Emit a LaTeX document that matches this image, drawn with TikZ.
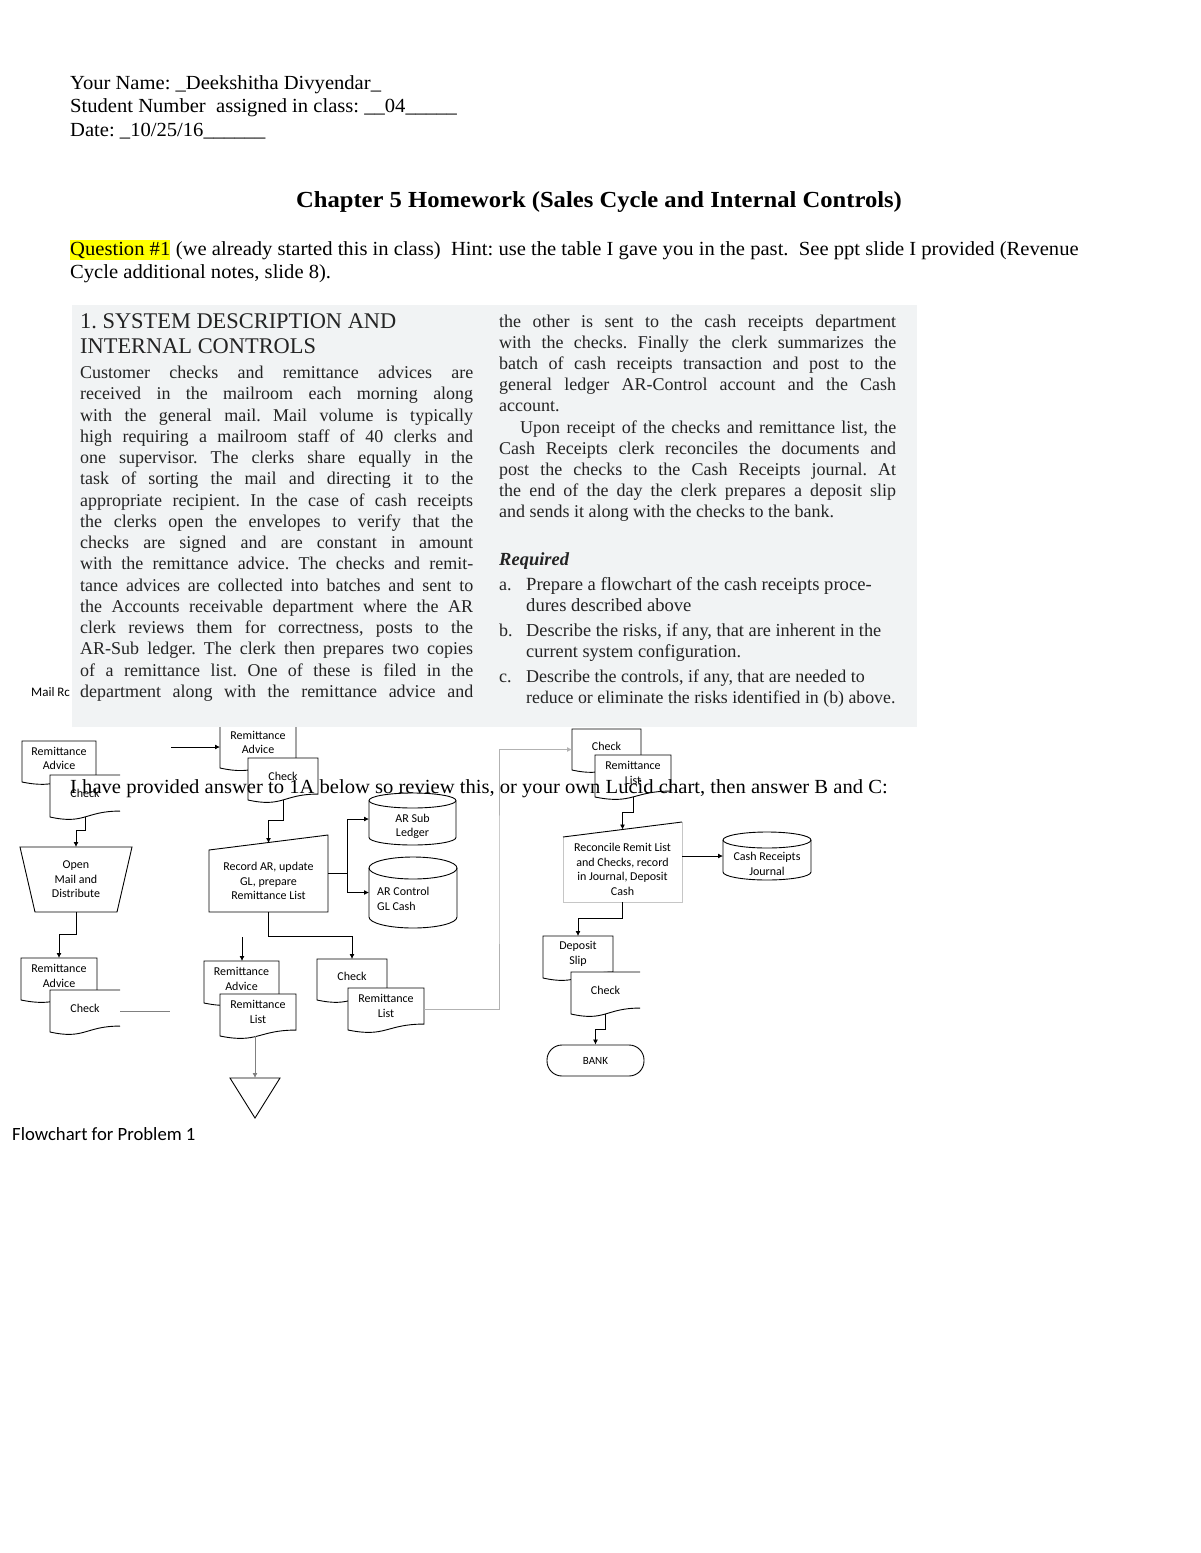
\documentclass[tikz,border=0pt]{standalone}
\usepackage{fontspec}
\setmainfont{Liberation Serif}
\newfontfamily\flowfamily{Carlito}
\newfontfamily\hdrfamily{Liberation Serif}[FakeStretch=1.03]
\newfontfamily\ttlfamily{Liberation Serif}[FakeStretch=1.07]
\usetikzlibrary{arrows.meta,calc,fit}
\definecolor{scanbg}{RGB}{241,243,244}
\definecolor{scantext}{RGB}{35,35,35}
\definecolor{hl}{RGB}{255,255,0}
\frenchspacing
\tikzset{
 docline/.style={draw=black, fill=white, line width=0.9pt},
 docbox/.style={inner sep=0pt, outer sep=0pt},
 doctext/.style={font=\flowfamily\fontsize{12}{14.5}\selectfont, align=center, inner sep=0pt},
 arr/.style={line width=0.8pt, -{Latex[length=5pt,width=5pt]}},
 conn/.style={line width=0.8pt},
 hdr/.style={anchor=base west, inner sep=0pt, font=\hdrfamily\fontsize{20}{24}\selectfont},
 scanl/.style={anchor=base west, inner sep=0pt, text=scantext, font=\frenchspacing\fontsize{18}{21}\selectfont},
 scanh/.style={anchor=base west, inner sep=0pt, text=scantext, font=\fontsize{22.4}{26}\selectfont},
}
% document shape: name x1 y1 x2 y2 text
\newcommand\Doc[6]{%
 \node[docbox, fit={(#2,#3) (#4,#5)}] (#1) {};
 \filldraw[docline] (#1.north west) -- (#1.north east) -- ({#4},{#3+0.8587*(#5-#3)}) .. controls ({(#2+#4)/2},{#3+0.8587*(#5-#3)}) and ({(#2+#4)/2},{#3+1.1852*(#5-#3)}) .. (#1.south west) -- cycle;
 \node[doctext] (#1t) at ({(#2+#4)/2},{#3+0.43*(#5-#3)}) {#6};
}
% document shape with open right side
\newcommand\DocOpen[6]{%
 \node[docbox, fit={(#2,#3) (#4,#5)}] (#1) {};
 \fill[white] (#1.north west) -- (#1.north east) -- ({#4},{#3+0.8587*(#5-#3)}) .. controls ({(#2+#4)/2},{#3+0.8587*(#5-#3)}) and ({(#2+#4)/2},{#3+1.1852*(#5-#3)}) .. (#1.south west) -- cycle;
 \draw[line width=0.9pt] ({#4},{#3+0.8587*(#5-#3)}) .. controls ({(#2+#4)/2},{#3+0.8587*(#5-#3)}) and ({(#2+#4)/2},{#3+1.1852*(#5-#3)}) .. (#1.south west) -- (#1.north west) -- (#1.north east);
 \node[doctext] (#1t) at ({(#2+#4)/2},{#3+0.43*(#5-#3)}) {#6};
}
% cylinder: name x1 y1 x2 y2 ry text
\newcommand\Cyl[7]{%
 \node[docbox, fit={(#2,#3) (#4,#5)}] (#1) {};
 \pgfmathsetmacro\cylrx{(#4-#2)/2}
 \filldraw[docline] (#2,{#3+#6}) -- (#2,{#5-#6}) arc[start angle=180,end angle=0,x radius=\cylrx,y radius=#6] -- (#4,{#3+#6}) arc[start angle=0,end angle=-180,x radius=\cylrx,y radius=#6] -- cycle;
 \draw[line width=0.9pt] (#2,{#3+#6}) arc[start angle=180,end angle=0,x radius=\cylrx,y radius=#6];
 \node[doctext] (#1t) at ({(#2+#4)/2},{(#3+2*#6+#5)/2}) {#7};
}
\newcommand\LL[3]{\node[scanl] (#1) at (80,#2) {\makebox[393pt][s]{#3}};}
\newcommand\RL[3]{\node[scanl] (#1) at (499,#2) {\makebox[397pt][s]{#3}};}
\begin{document}
\begin{tikzpicture}[x=1pt,y=-1pt]
\fill[white] (0,0) rectangle (1200,1553);
\path[use as bounding box] (0,0) rectangle (1200,1553);

% ---------------- flowchart ----------------
% mail room
\Doc{raLa}{22}{741}{96}{782}{Remittance\\Advice}
\DocOpen{ckLa}{50}{775}{120}{817}{Check}
\node[docbox, fit={(20,847) (132,912)}] (opn) {};
\draw[line width=0.9pt, fill=white] (opn.north west) -- (opn.north east) -- (117,912) -- (35,912) -- cycle;
\node[doctext] (opnt) at (opn.center) {Open\\Mail and\\Distribute};
\Doc{raLb}{21}{958}{97}{1000}{Remittance\\Advice}
\DocOpen{ckLb}{50}{990}{120}{1032}{Check}

% AR department
\Doc{raMa}{220}{723}{296}{768}{Remittance\\Advice}
\Doc{ckMa}{248}{758}{318}{800}{Check}
\node[docbox, fit={(209,850) (328,912)}] (rec) {};
\draw[line width=0.9pt, fill=white] (209,850) -- (328,835) -- (328,912) -- (209,912) -- cycle;
\node[doctext] (rect) at (rec.center) {Record AR, update\\GL, prepare\\Remittance List};
\Cyl{arsub}{369}{793}{456}{845}{7.5}{AR Sub\\Ledger}
\Cyl{arctl}{369}{857}{457}{928}{11}{}
\node[doctext, anchor=west, align=left] (arctlx) at (377,899) {AR Control\\GL Cash};
\Doc{raMb}{204}{961}{279}{1003}{Remittance\\Advice}
\Doc{ltMa}{220}{994}{296}{1036}{Remittance\\List}
\Doc{ckMb}{317}{959}{387}{1000}{Check}
\Doc{ltMb}{348}{988}{424}{1030}{Remittance\\List}
\node[docbox, fit={(230,1078) (280,1118)}] (tri) {};
\draw[line width=0.9pt] (tri.north west) -- (tri.north east) -- (tri.south) -- cycle;

% cash receipts
\Doc{ckRa}{572}{729}{641}{770}{Check}
\Doc{ltR}{595}{755}{671}{797}{Remittance\\List}
\node[docbox, fit={(563,837) (682,902)}] (rcn) {};
\fill[white] (563,837) -- (682,822) -- (682,902) -- (563,902) -- cycle;
\draw[line width=0.6pt, gray!45] (682,822) -- (682,902) -- (563,902) -- (563,837);
\draw[line width=0.9pt] (563,837) -- (682,822);
\node[doctext] (rcnt) at (rcn.center) {Reconcile Remit List\\and Checks, record\\in Journal, Deposit\\Cash};
\Cyl{crj}{723}{832}{811}{880}{8}{Cash Receipts\\Journal}
\Doc{dsR}{543}{936}{613}{978}{Deposit\\Slip}
\DocOpen{ckRb}{571}{972}{640}{1014}{Check}
\node[draw, line width=0.9pt, rounded corners=15pt, minimum width=97pt, minimum height=31pt, inner sep=0pt, font=\flowfamily\fontsize{11}{13}\selectfont] (bank) at (595.5,1060.5) {BANK};

% connectors
\draw[arr] (ckLa.south) -- ++(0,13) -| (opn.north);
\draw[arr] (opn.south) -- ++(0,22) -| (raLb.north);
\coordinate (outL) at (170,1011);
\draw[conn, gray] (ckLb.east) -- (outL);
\coordinate (inA) at (171,747);
\draw[arr] (inA) -- (inA -| raMa.west);
\draw[arr] (ckMa.south) -- ++(0,20) -| ($(rec.north)+(0,-7)$);
\coordinate (jn) at (347,873);
\draw[conn] (rec.east |- jn) -- (jn);
\draw[arr] (jn) |- (arsub.west);
\draw[arr] (jn) |- (arctl.west);
\draw[arr] (rec.south) -- ++(0,24) -| (ckMb.north);
\coordinate (fa) at (242,937);
\draw[arr] (fa) -- (fa |- raMb.north);
\draw[arr, gray] (tri.north |- ltMa.south) -- (tri.north);
\coordinate (vr) at (499,880);
\draw[arr, gray!60] (ltMb.east) -| (vr) |- (ckRa.west);
\draw[arr] (ltR.south) -- ++(0,15) -| ($(rcn.north)+(0,-7.5)$);
\draw[arr] (rcn.east |- crj.west) -- (crj.west);
\draw[arr] (rcn.south) -- ++(0,16) -| (dsR.north);
\draw[arr] (ckRb.south) -- ++(0,15) -| (bank.north);

\node[anchor=base west, inner sep=0pt, font=\flowfamily\fontsize{13}{15}\selectfont] (mailrc) at (31,696) {Mail Rc};

% ---------------- scanned textbook excerpt ----------------
\fill[scanbg] (72,305) rectangle (917,727);
\node[scanh] (h1) at (80,328) {1. SYSTEM DESCRIPTION AND};
\node[scanh] (h2) at (80,353) {INTERNAL CONTROLS};
\LL{l1}{378.5}{Customer checks and remittance advices are}
\LL{l2}{399.75}{received in the mailroom each morning along}
\LL{l3}{421}{with the general mail. Mail volume is typically}
\LL{l4}{442.25}{high requiring a mailroom staff of 40 clerks and}
\LL{l5}{463.5}{one supervisor. The clerks share equally in the}
\LL{l6}{484.75}{task of sorting the mail and directing it to the}
\LL{l7}{506}{appropriate recipient. In the case of cash receipts}
\LL{l8}{527.25}{the clerks open the envelopes to verify that the}
\LL{l9}{548.5}{checks are signed and are constant in amount}
\LL{l10}{569.75}{with the remittance advice. The checks and remit-}
\LL{l11}{591}{tance advices are collected into batches and sent to}
\LL{l12}{612.25}{the Accounts receivable department where the AR}
\LL{l13}{633.5}{clerk reviews them for correctness, posts to the}
\LL{l14}{654.75}{AR-Sub ledger. The clerk then prepares two copies}
\LL{l15}{676}{of a remittance list. One of these is filed in the}
\LL{l16}{697.25}{department along with the remittance advice and}
\RL{r1}{327}{the other is sent to the cash receipts department}
\RL{r2}{348.2}{with the checks. Finally the clerk summarizes the}
\RL{r3}{369.4}{batch of cash receipts transaction and post to the}
\RL{r4}{390.6}{general ledger AR-Control account and the Cash}
\node[scanl] (r5) at (499,411.8) {account.};
\node[scanl] (r6) at (520,433) {\makebox[376pt][s]{Upon receipt of the checks and remittance list, the}};
\RL{r7}{454.2}{Cash Receipts clerk reconciles the documents and}
\RL{r8}{475.4}{post the checks to the Cash Receipts journal. At}
\RL{r9}{496.6}{the end of the day the clerk prepares a deposit slip}
\node[scanl] (r10) at (499,517.8) {and sends it along with the checks to the bank.};
\node[scanl, font=\bfseries\itshape\fontsize{18.5}{21}\selectfont] (req) at (499,565) {Required};
\node[scanl] (qa) at (499,590) {a.};
\node[scanl, font=\fontsize{18.6}{21}\selectfont] (qat) at (526,590) {Prepare a flowchart of the cash receipts proce-};
\node[scanl, font=\fontsize{18.6}{21}\selectfont] (qat2) at (526,611) {dures described above};
\node[scanl] (qb) at (499,636) {b.};
\node[scanl, font=\fontsize{18.3}{21}\selectfont] (qbt) at (526,636) {Describe the risks, if any, that are inherent in the};
\node[scanl, font=\fontsize{18.3}{21}\selectfont] (qbt2) at (526,657) {current system configuration.};
\node[scanl] (qc) at (499,682) {c.};
\node[scanl] (qct) at (526,682) {Describe the controls, if any, that are needed to};
\node[scanl, font=\fontsize{17.8}{21}\selectfont] (qct2) at (526,703) {reduce or eliminate the risks identified in (b) above.};

% ---------------- header ----------------
\node[hdr] (name) at (70,89) {Your Name: \_Deekshitha Divyendar\_};
\node[hdr] (stud) at (70,112.5) {Student Number \ assigned in class: \_\_04\_\_\_\_\_};
\node[hdr] (date) at (70,136) {Date: \_10/25/16\_\_\_\_\_\_};
\node[anchor=base, inner sep=0pt, font=\ttlfamily\bfseries\fontsize{23}{27}\selectfont] (title) at (599,207) {Chapter 5 Homework (Sales Cycle and Internal Controls)};
\node[hdr, fill=hl, inner ysep=2pt] (q1) at (70,255) {Question \#1};
\node[hdr] (q1b) at (q1.base east) {\ (we already started this in class)\ \ Hint: use the table I gave you in the past.\ \ See ppt slide I provided (Revenue};
\node[hdr] (q2) at (70,278) {Cycle additional notes, slide 8).};

% overlay sentence
\node[hdr] (ovl) at (70,793) {I have provided answer to 1A below so review this, or your own Lucid chart, then answer B and C:};

\node[anchor=base west, inner sep=0pt, font=\flowfamily\fontsize{18.7}{22}\selectfont] (cap) at (12,1140) {Flowchart for Problem 1};
\end{tikzpicture}
\end{document}
